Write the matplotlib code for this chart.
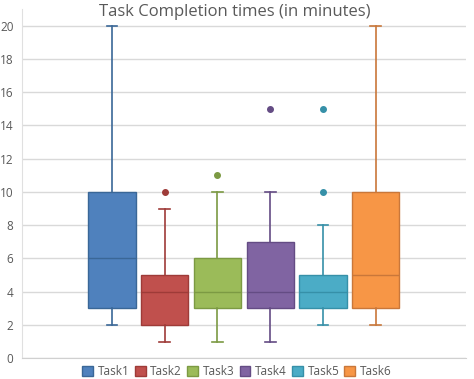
import matplotlib.pyplot as plt
from matplotlib.patches import Patch

# values
tasks = ["Task1", "Task2", "Task3", "Task4", "Task5", "Task6"]
whisker_low = [2, 1, 1, 1, 2, 2]
q1 = [3, 2, 3, 3, 3, 3]
medians = [6, 4, 4, 4, 4, 5]
q3 = [10, 5, 6, 7, 5, 10]
whisker_high = [20, 9, 10, 10, 8, 20]
outliers = [[], [10], [11], [15], [10, 15], []]

colors = ["#4F81BD", "#C0504D", "#9BBB59", "#8064A2", "#4BACC6", "#F79646"]
edges = ["#3A6797", "#9E3B38", "#7C9A43", "#644C84", "#3690A8", "#C9773A"]

TEXT = "#595959"
plt.rcParams["font.family"] = ["Open Sans", "DejaVu Sans"]


def plot_boxes():

    fig = plt.figure(figsize=(4.74, 3.79), dpi=100, facecolor="white")
    ax = fig.add_axes([0.046, 0.055, 0.937, 0.921])

    stats = []
    for i, name in enumerate(tasks):
        stats.append({
            "label": name,
            "whislo": whisker_low[i],
            "q1": q1[i],
            "med": medians[i],
            "q3": q3[i],
            "whishi": whisker_high[i],
            "fliers": outliers[i],
        })

    positions = list(range(1, len(tasks) + 1))
    res = ax.bxp(
        stats,
        positions=positions,
        widths=0.9,
        capwidths=0.2,
        patch_artist=True,
        showfliers=True,
        zorder=3,
    )

    for i in range(len(tasks)):
        box = res["boxes"][i]
        box.set_facecolor(colors[i])
        box.set_edgecolor(edges[i])
        box.set_linewidth(1.0)
        res["medians"][i].set_color(edges[i])
        res["medians"][i].set_linewidth(1.0)
        for w in res["whiskers"][2 * i:2 * i + 2]:
            w.set_color(edges[i])
            w.set_linewidth(1.2)
        for c in res["caps"][2 * i:2 * i + 2]:
            c.set_color(edges[i])
            c.set_linewidth(1.2)
        f = res["fliers"][i]
        f.set_marker("o")
        f.set_markersize(4)
        f.set_markerfacecolor(edges[i])
        f.set_markeredgecolor(edges[i])

    ax.set_xlim(-0.71, 7.71)
    ax.set_ylim(0, 21)
    ax.set_yticks(range(0, 21, 2))
    ax.set_xticks([])

    ax.grid(True, axis="y", color="#D9D9D9", linewidth=1.0, zorder=0)
    ax.set_axisbelow(True)

    for side in ["top", "right"]:
        ax.spines[side].set_visible(False)
    ax.spines["left"].set_color("#E0E0E0")
    ax.spines["bottom"].set_color("#D0D0D0")

    ax.tick_params(axis="y", length=0, labelsize=8.5, labelcolor=TEXT, pad=6)

    fig.text(
        0.496, 0.968,
        "Task Completion times (in minutes)",
        ha="center", va="center",
        fontsize=12, color=TEXT,
    )

    handles = [
        Patch(facecolor=colors[i], edgecolor=edges[i], label=tasks[i])
        for i in range(len(tasks))
    ]
    fig.legend(
        handles=handles,
        loc="center",
        bbox_to_anchor=(0.5, 0.02),
        ncol=6,
        frameon=False,
        fontsize=8.5,
        labelcolor=TEXT,
        handlelength=0.9,
        handleheight=0.9,
        handletextpad=0.4,
        columnspacing=0.45,
    )

    fig.savefig("out.png", dpi=100, facecolor="white")
    plt.close(fig)


if __name__ == "__main__":
    plot_boxes()
